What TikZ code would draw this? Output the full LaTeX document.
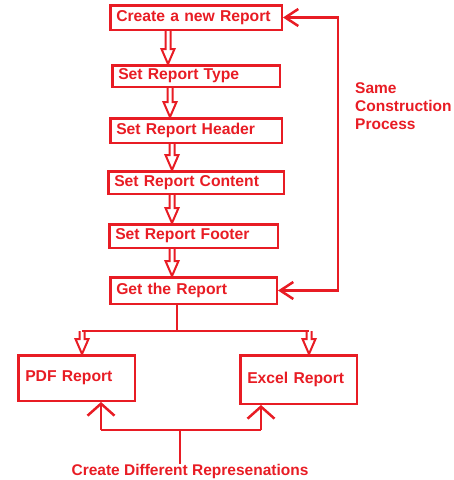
\documentclass[tikz,border=0pt]{standalone}
\usepackage{fontspec}
\setmainfont{Liberation Sans}
\usetikzlibrary{arrows.meta,calc}
\definecolor{myred}{RGB}{232,28,36}
\begin{document}
\begin{tikzpicture}[x=1pt,y=-1pt,
  box/.style={draw=myred, line width=2.5pt, text=myred, align=left, inner xsep=6pt, inner ysep=1pt,
    font=\fontsize{15.7}{18}\selectfont\bfseries},
  line/.style={draw=myred, line width=2.5pt},
  lbl/.style={text=myred, font=\fontsize{15.5}{18}\selectfont\bfseries, inner sep=0pt},
  hollow/.style={draw=myred, line width=2pt, to path={let \p1=(\tikztostart), \p2=(\tikztotarget) in
    (\x1-2.5pt,\y1) -- (\x1-2.5pt,\y2+15pt) -- (\x1-6.5pt,\y2+15pt) -- (\x1,\y2)
    -- (\x1+6.5pt,\y2+15pt) -- (\x1+2.5pt,\y2+15pt) -- (\x1+2.5pt,\y1)}},
  fbtip/.style={arrows={Straight Barb[length=13pt,width=17pt]-Straight Barb[length=13pt,width=17pt]}},
  uptip/.style={-{Straight Barb[length=12pt,width=27pt]}}
]
\useasboundingbox (0,0) rectangle (454,480);

\node[box, text width=159.5pt, minimum height=24.5pt] (create) at (196,17.5) {Create a new Report};
\node[box, text width=155.5pt, minimum height=21.5pt] (type) at (196,76) {Set Report Type};
\node[box, text width=159.5pt, minimum height=24.5pt] (header) at (196,130.5) {Set Report Header};
\node[box, text width=163.5pt, minimum height=22.5pt] (content) at (196,182.5) {Set Report Content};
\node[box, text width=156.5pt, minimum height=23.5pt] (footer) at (193.5,236) {Set Report Footer};
\node[box, text width=154.5pt, minimum height=26.5pt] (get) at (193.5,290.5) {Get the Report};
\node[box, inner xsep=7pt, text width=102.5pt, minimum height=45.5pt] (pdf) at (76.5,378) {PDF Report};
\node[box, inner xsep=7pt, text width=102.5pt, minimum height=48.5pt] (excel) at (298.5,379.5) {Excel Report};

\node[lbl, align=left, anchor=west] (same) at (355,106) {Same\\Construction\\Process};
\node[lbl] (cdr) at (190,471) {Create Different Represenations};

\coordinate (h1) at (168,0);
\coordinate (h2) at (170,0);
\coordinate (h3) at (172,0);
\coordinate (fb) at (338,0);
\coordinate (split) at (177,331);
\coordinate (lb) at (82,331);
\coordinate (rb) at (309,331);
\coordinate (bm) at (180,430);
\coordinate (bl) at (101,430);
\coordinate (br) at (261,430);

\draw[hollow] (create.south -| h1) to (type.north -| h1);
\draw[hollow] (type.south -| h2) to (header.north -| h2);
\draw[hollow] (header.south -| h3) to (content.north -| h3);
\draw[hollow] (content.south -| h3) to (footer.north -| h3);
\draw[hollow] (footer.south -| h3) to (get.north -| h3);

\draw[line, fbtip] (get.east) -- (get.east -| fb) -- (create.east -| fb) -- (create.east);

\draw[line] (get.south -| split) -- (split);
\draw[line] (lb) -- (rb);
\draw[hollow] (lb) to (pdf.north -| lb);
\draw[hollow] (rb) to (excel.north -| rb);

\draw[line] (cdr.north -| bm) -- (bm);
\draw[line] (bl) -- (br);
\draw[line, uptip] (bl) -- (pdf.south -| bl);
\draw[line, uptip] (br) -- (excel.south -| br);
\end{tikzpicture}
\end{document}
